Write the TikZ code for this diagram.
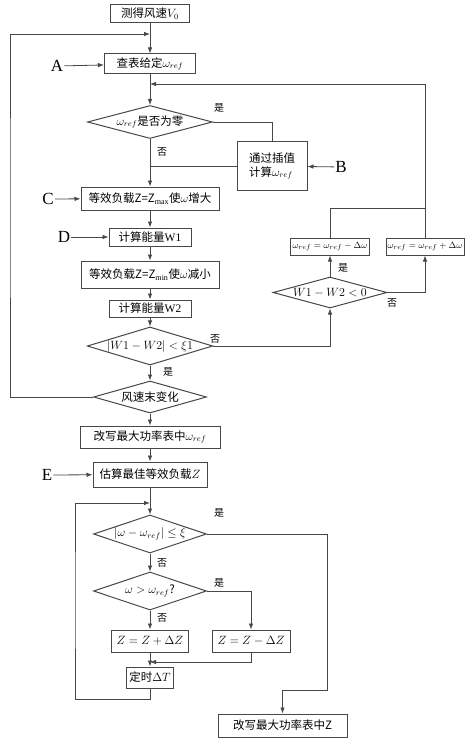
\documentclass[tikz,border=0pt]{standalone}
\usepackage{amsmath}
\usepackage{fontspec}
\setmainfont{Liberation Serif}
\newfontfamily\cjk{Noto Sans CJK SC}
\usetikzlibrary{shapes.geometric,arrows.meta,positioning}
\definecolor{linegray}{rgb}{0.28,0.28,0.28}

\begin{document}
\begin{tikzpicture}[x=1pt,y=-1pt,
                ln/.style={draw=linegray, line width=0.8pt},
                arr/.style={ln, -{Latex[length=6pt,width=4.5pt]}},
                blk/.style 2 args={draw=linegray, line width=1pt, rectangle, inner sep=1pt,
                        font=\cjk\fontsize{11.5}{14}\selectfont, minimum width=#1, minimum height=#2},
                dec/.style n args={3}{draw=linegray, line width=1pt, diamond, inner sep=0pt, aspect=#3,
                        font=\cjk\fontsize{11.5}{14}\selectfont, minimum width=#1, minimum height=#2},
                tag/.style={font=\fontsize{17}{18}\selectfont, inner sep=1pt},
                yn/.style={font=\cjk\fontsize{10}{12}\selectfont, inner sep=0pt}]
                \useasboundingbox (0,0) rectangle (474,741);
                \node[blk={79pt}{18pt}] (v0) at (150,14) {测得风速$V_0$};
                \node[blk={91pt}{20pt}] (tab) at (150,64) {查表给定$\omega_{ref}$};
                \node[dec={125pt}{33pt}{3.8}] (d1) at (150,122) {$\omega_{ref}$是否为零};
                \node[blk={70pt}{49pt}, align=left] (interp) at (272,166) {通过插值\\计算$\omega_{ref}$};
                \node[blk={138pt}{23pt}] (zmax) at (150,198.5) {等效负载Z=Z$_{\max}$使$\omega$增大};
                \node[blk={82pt}{18pt}] (w1) at (150,237) {计算能量{\rmfamily W1}};
                \node[blk={138pt}{27pt}] (zmin) at (150,274.5) {等效负载Z=Z$_{\min}$使$\omega$减小};
                \node[blk={82pt}{17pt}] (w2) at (150,308.5) {计算能量{\rmfamily W2}};
                \node[dec={115pt}{35pt}{3.3}] (d2) at (150,346) {$\lvert W1-W2\rvert<\xi 1$};
                \node[dec={114pt}{31pt}{3.7}] (d3) at (330,292.5) {$W1-W2<0$};
                \node[blk={79pt}{17pt}, font=\fontsize{9.5}{11}\selectfont] (minus) at (330,246.5) {$\omega_{ref}=\omega_{ref}-\Delta\omega$};
                \node[blk={78pt}{17pt}, font=\fontsize{9.5}{11}\selectfont] (plus) at (425,246.5) {$\omega_{ref}=\omega_{ref}+\Delta\omega$};
                \node[dec={113pt}{32pt}{3.5}] (d4) at (150,397) {风速末变化};
                \node[blk={140pt}{22pt}] (rew1) at (150,437) {改写最大功率表中$\omega_{ref}$};
                \node[blk={114pt}{25pt}] (est) at (150,474.5) {估算最佳等效负载$Z$};
                \node[dec={113pt}{38pt}{3}] (d5) at (150,534) {$\lvert\omega-\omega_{ref}\rvert\le\xi$};
                \node[dec={113pt}{38pt}{3}] (d6) at (150,591) {$\omega>\omega_{ref}$?};
                \node[blk={77pt}{22pt}] (zp) at (150,641) {$Z=Z+\Delta Z$};
                \node[blk={78pt}{22pt}] (zm) at (251,641) {$Z=Z-\Delta Z$};
                \node[blk={47pt}{21pt}] (dt) at (150,677.5) {定时$\Delta T$};
                \node[blk={129pt}{23pt}] (rew2) at (282.5,725.5) {改写最大功率表中Z};
                \node[tag] (A) at (57,66) {A};
                \node[tag] (B) at (341,167) {B};
                \node[tag] (C) at (48,199) {C};
                \node[tag] (D) at (64,237) {D};
                \node[tag] (E) at (47,475) {E};
                \coordinate (j1) at (150,34);
                \coordinate (j2) at (150,84);
                \coordinate (j3) at (150,166);
                \coordinate (j4) at (425,208);
                \coordinate (j5) at (150,503);
                \coordinate (j6) at (150,662);
                \coordinate (c5) at (327,690);
                \draw[arr] (v0) -- (tab);
                \draw[arr] (tab) -- (d1);
                \draw[arr] (d1) -- (zmax);
                \draw[arr] (zmax) -- (w1);
                \draw[arr] (w1) -- (zmin);
                \draw[arr] (zmin) -- (w2);
                \draw[arr] (w2) -- (d2);
                \draw[arr] (d2) -- (d4);
                \draw[arr] (d4) -- (rew1);
                \draw[arr] (rew1) -- (est);
                \draw[arr] (est) -- (d5);
                \draw[arr] (d5) -- (d6);
                \draw[arr] (d6) -- (zp);
                \draw[arr] (zp) -- (dt);
                \draw[arr] (A) -- (tab);
                \draw[arr] (B) -- (interp);
                \draw[arr] (C) -- (zmax);
                \draw[arr] (D) -- (w1);
                \draw[arr] (E) -- (est);
                \draw[ln] (d1.east) -| (interp.north);
                \draw[ln] (interp.west) -- (j3);
                \draw[arr] (d2.east) -| (d3.south);
                \draw[arr] (d3.north) -- (minus.south);
                \draw[arr] (d3.east) -| (plus.south);
                \draw[ln] (minus.north) |- (j4);
                \draw[arr] (plus.north) |- (j2);
                \draw[arr] (d4.west) -| (10,200) |- (j1);
                \draw[arr] (d5.east) -| (c5) -| (rew2.north);
                \draw[arr] (d6.east) -| (zm.north);
                \draw[arr] (zm.south) |- (j6);
                \draw[arr] (dt.south) -- ++(0,11) -| (75,600) |- (j5);
                \node[yn] at (219,108) {是};
                \node[yn] at (162,152) {否};
                \node[yn] at (215,339) {否};
                \node[yn] at (343,268) {是};
                \node[yn] at (392,303) {否};
                \node[yn] at (168,372) {是};
                \node[yn] at (219,513) {是};
                \node[yn] at (162,563) {否};
                \node[yn] at (219,583) {是};
                \node[yn] at (162,618) {否};
            \end{tikzpicture}
\end{document}
